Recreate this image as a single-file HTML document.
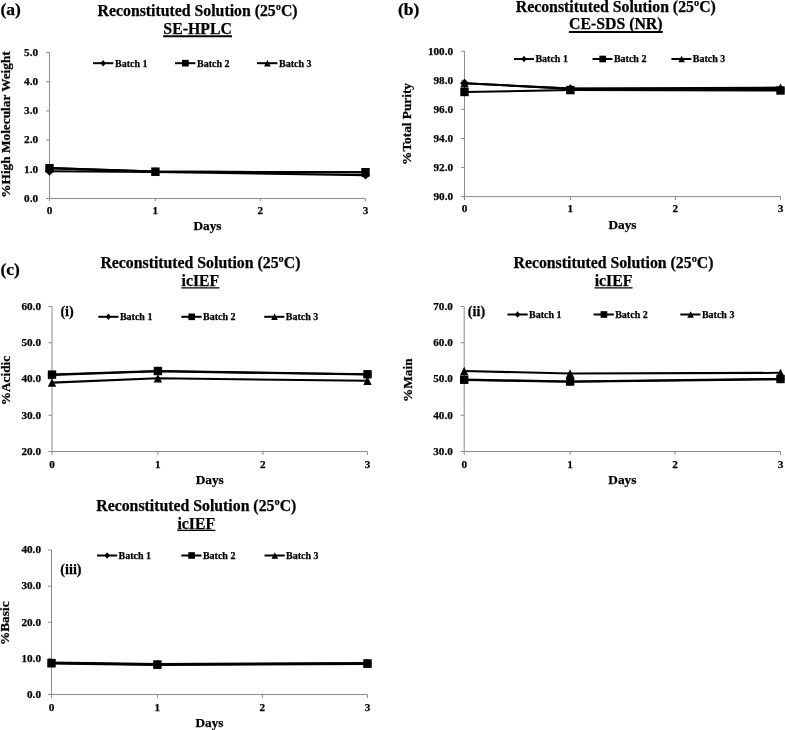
<!DOCTYPE html>
<html><head><meta charset="utf-8"><title>Reconstituted Solution stability</title>
<style>
html,body{margin:0;padding:0;background:#fff;}
svg{display:block;}
text{font-family:"Liberation Serif", serif;font-weight:bold;fill:#000;stroke:#000;stroke-width:0.25px;stroke-linejoin:round;}
</style></head><body>
<svg width="785" height="730" viewBox="0 0 785 730">
<rect width="785" height="730" fill="#fff"/>
<text x="197.6" y="15.7" text-anchor="middle" font-size="15.8">Reconstituted Solution (25ºC)</text>
<text x="197.6" y="33.9" text-anchor="middle" font-size="15.8">SE-HPLC</text>
<path d="M163.16 36.20H232.04" stroke="#000" stroke-width="1.9"/>
<g stroke="#8c8c8c" stroke-width="1" fill="none">
<path d="M49.5 52.5V198.5H365.5"/>
<path d="M46.0 198.50H49.5"/>
<path d="M46.0 169.30H49.5"/>
<path d="M46.0 140.10H49.5"/>
<path d="M46.0 110.90H49.5"/>
<path d="M46.0 81.70H49.5"/>
<path d="M46.0 52.50H49.5"/>
<path d="M49.50 198.5V201.1"/>
<path d="M155.40 198.5V201.1"/>
<path d="M260.40 198.5V201.1"/>
<path d="M365.50 198.5V201.1"/>
</g>
<text x="38.1" y="201.80" text-anchor="end" font-size="11.2">0.0</text>
<text x="38.1" y="172.60" text-anchor="end" font-size="11.2">1.0</text>
<text x="38.1" y="143.40" text-anchor="end" font-size="11.2">2.0</text>
<text x="38.1" y="114.20" text-anchor="end" font-size="11.2">3.0</text>
<text x="38.1" y="85.00" text-anchor="end" font-size="11.2">4.0</text>
<text x="38.1" y="55.80" text-anchor="end" font-size="11.2">5.0</text>
<text x="49.50" y="213.5" text-anchor="middle" font-size="11.2">0</text>
<text x="155.40" y="213.5" text-anchor="middle" font-size="11.2">1</text>
<text x="260.40" y="213.5" text-anchor="middle" font-size="11.2">2</text>
<text x="365.50" y="213.5" text-anchor="middle" font-size="11.2">3</text>
<text x="207.50" y="229.5" text-anchor="middle" font-size="13.3">Days</text>
<text transform="translate(9.7 124.50) rotate(-90)" text-anchor="middle" font-size="13.3">%High Molecular Weight</text>
<path d="M93 63.2H113.4" stroke="#000" stroke-width="2"/>
<path d="M100.50 63.2L103.20 59.90L105.90 63.2L103.20 66.50Z"/>
<text x="115.1" y="66.8" font-size="10">Batch 1</text>
<path d="M175 63.2H195.4" stroke="#000" stroke-width="2"/>
<rect x="182.08" y="59.88" width="6.64" height="6.64"/>
<text x="197.1" y="66.8" font-size="10">Batch 2</text>
<path d="M257 63.2H277.4" stroke="#000" stroke-width="2"/>
<path d="M267.40 59.88L270.72 66.52L264.08 66.52Z"/>
<text x="279.1" y="66.8" font-size="10">Batch 3</text>
<text x="0.5" y="15" font-size="17.5">(a)</text>
<polyline points="49.50,171.34 155.40,171.93 365.50,175.14" fill="none" stroke="#000" stroke-width="2.05" stroke-linejoin="round"/>
<path d="M45.10 171.34L49.50 166.94L53.90 171.34L49.50 175.74Z"/>
<path d="M151.00 171.93L155.40 167.53L159.80 171.93L155.40 176.33Z"/>
<path d="M361.10 175.14L365.50 170.74L369.90 175.14L365.50 179.54Z"/>
<polyline points="49.50,168.13 155.40,171.64 365.50,172.22" fill="none" stroke="#000" stroke-width="2.05" stroke-linejoin="round"/>
<rect x="45.30" y="163.93" width="8.40" height="8.40"/>
<rect x="151.20" y="167.44" width="8.40" height="8.40"/>
<rect x="361.30" y="168.02" width="8.40" height="8.40"/>
<polyline points="49.50,168.13 155.40,171.64 365.50,172.22" fill="none" stroke="#000" stroke-width="2.05" stroke-linejoin="round"/>
<path d="M49.50 163.93L53.70 172.33L45.30 172.33Z"/>
<path d="M155.40 167.44L159.60 175.84L151.20 175.84Z"/>
<path d="M365.50 168.02L369.70 176.42L361.30 176.42Z"/>
<text x="615.8" y="11.7" text-anchor="middle" font-size="15.8">Reconstituted Solution (25ºC)</text>
<text x="615.8" y="29.2" text-anchor="middle" font-size="15.8">CE-SDS (NR)</text>
<path d="M568.86 32.00H662.74" stroke="#000" stroke-width="1.8"/>
<g stroke="#8c8c8c" stroke-width="1" fill="none">
<path d="M464.5 51.3V196.6H780.5"/>
<path d="M461.0 196.60H464.5"/>
<path d="M461.0 167.54H464.5"/>
<path d="M461.0 138.48H464.5"/>
<path d="M461.0 109.42H464.5"/>
<path d="M461.0 80.36H464.5"/>
<path d="M461.0 51.30H464.5"/>
<path d="M464.50 196.6V200.0"/>
<path d="M570.40 196.6V200.0"/>
<path d="M675.40 196.6V200.0"/>
<path d="M780.50 196.6V200.0"/>
</g>
<text x="453.1" y="199.90" text-anchor="end" font-size="11.2">90.0</text>
<text x="453.1" y="170.84" text-anchor="end" font-size="11.2">92.0</text>
<text x="453.1" y="141.78" text-anchor="end" font-size="11.2">94.0</text>
<text x="453.1" y="112.72" text-anchor="end" font-size="11.2">96.0</text>
<text x="453.1" y="83.66" text-anchor="end" font-size="11.2">98.0</text>
<text x="453.1" y="54.60" text-anchor="end" font-size="11.2">100.0</text>
<text x="464.50" y="212.2" text-anchor="middle" font-size="11.2">0</text>
<text x="570.40" y="212.2" text-anchor="middle" font-size="11.2">1</text>
<text x="675.40" y="212.2" text-anchor="middle" font-size="11.2">2</text>
<text x="780.50" y="212.2" text-anchor="middle" font-size="11.2">3</text>
<text x="622.50" y="228.7" text-anchor="middle" font-size="13.3">Days</text>
<text transform="translate(411.2 123.95) rotate(-90)" text-anchor="middle" font-size="13.3">%Total Purity</text>
<path d="M514.0 59.0H534.0" stroke="#000" stroke-width="2"/>
<path d="M521.30 59.0L524.00 55.70L526.70 59.0L524.00 62.30Z"/>
<text x="535.4" y="62.0" font-size="10">Batch 1</text>
<path d="M592.5 59.0H612.5" stroke="#000" stroke-width="2"/>
<rect x="599.38" y="55.68" width="6.64" height="6.64"/>
<text x="613.9" y="62.0" font-size="10">Batch 2</text>
<path d="M671.4 59.0H691.4" stroke="#000" stroke-width="2"/>
<path d="M681.60 55.68L684.92 62.32L678.28 62.32Z"/>
<text x="692.8" y="62.0" font-size="10">Batch 3</text>
<text x="398" y="15" font-size="17.5">(b)</text>
<polyline points="464.50,83.27 570.40,88.64 780.50,89.08" fill="none" stroke="#000" stroke-width="2.05" stroke-linejoin="round"/>
<path d="M460.10 83.27L464.50 78.87L468.90 83.27L464.50 87.67Z"/>
<path d="M566.00 88.64L570.40 84.24L574.80 88.64L570.40 93.04Z"/>
<path d="M776.10 89.08L780.50 84.68L784.90 89.08L780.50 93.48Z"/>
<polyline points="464.50,91.98 570.40,90.10 780.50,90.53" fill="none" stroke="#000" stroke-width="2.05" stroke-linejoin="round"/>
<rect x="460.30" y="87.78" width="8.40" height="8.40"/>
<rect x="566.20" y="85.90" width="8.40" height="8.40"/>
<rect x="776.30" y="86.33" width="8.40" height="8.40"/>
<polyline points="464.50,83.27 570.40,88.64 780.50,87.62" fill="none" stroke="#000" stroke-width="2.05" stroke-linejoin="round"/>
<path d="M464.50 79.07L468.70 87.47L460.30 87.47Z"/>
<path d="M570.40 84.44L574.60 92.84L566.20 92.84Z"/>
<path d="M780.50 83.42L784.70 91.82L776.30 91.82Z"/>
<text x="200.4" y="267.5" text-anchor="middle" font-size="15.8">Reconstituted Solution (25ºC)</text>
<text x="200.4" y="286" text-anchor="middle" font-size="15.8">icIEF</text>
<path d="M181.33 287.90H219.47" stroke="#000" stroke-width="1.4"/>
<g stroke="#8c8c8c" stroke-width="1" fill="none">
<path d="M52.0 306.5V451.5H367.5"/>
<path d="M48.5 451.50H52.0"/>
<path d="M48.5 415.25H52.0"/>
<path d="M48.5 379.00H52.0"/>
<path d="M48.5 342.75H52.0"/>
<path d="M48.5 306.50H52.0"/>
<path d="M52.00 451.5V454.9"/>
<path d="M157.90 451.5V454.9"/>
<path d="M262.90 451.5V454.9"/>
<path d="M367.50 451.5V454.9"/>
</g>
<text x="41.0" y="454.80" text-anchor="end" font-size="11.2">20.0</text>
<text x="41.0" y="418.55" text-anchor="end" font-size="11.2">30.0</text>
<text x="41.0" y="382.30" text-anchor="end" font-size="11.2">40.0</text>
<text x="41.0" y="346.05" text-anchor="end" font-size="11.2">50.0</text>
<text x="41.0" y="309.80" text-anchor="end" font-size="11.2">60.0</text>
<text x="52.00" y="467.5" text-anchor="middle" font-size="11.2">0</text>
<text x="157.90" y="467.5" text-anchor="middle" font-size="11.2">1</text>
<text x="262.90" y="467.5" text-anchor="middle" font-size="11.2">2</text>
<text x="367.50" y="467.5" text-anchor="middle" font-size="11.2">3</text>
<text x="209.75" y="483.5" text-anchor="middle" font-size="13.3">Days</text>
<text transform="translate(9.5 380.60) rotate(-90)" text-anchor="middle" font-size="13.3">%Acidic</text>
<path d="M98.3 316.8H118.5" stroke="#000" stroke-width="2"/>
<path d="M105.70 316.8L108.40 313.50L111.10 316.8L108.40 320.10Z"/>
<text x="119.9" y="319.90000000000003" font-size="10">Batch 1</text>
<path d="M181.4 316.8H201.6" stroke="#000" stroke-width="2"/>
<rect x="188.38" y="313.48" width="6.64" height="6.64"/>
<text x="203.0" y="319.90000000000003" font-size="10">Batch 2</text>
<path d="M264.2 316.8H284.4" stroke="#000" stroke-width="2"/>
<path d="M274.50 313.48L277.82 320.12L271.18 320.12Z"/>
<text x="285.8" y="319.90000000000003" font-size="10">Batch 3</text>
<text x="0.5" y="275" font-size="17.5">(c)</text>
<text x="60.4" y="316" font-size="14.2">(i)</text>
<polyline points="52.00,374.95 157.90,371.32 367.50,374.59" fill="none" stroke="#000" stroke-width="2.05" stroke-linejoin="round"/>
<path d="M47.60 374.65L52.00 370.25L56.40 374.65L52.00 379.05Z"/>
<path d="M153.50 371.02L157.90 366.62L162.30 371.02L157.90 375.42Z"/>
<path d="M363.10 374.29L367.50 369.89L371.90 374.29L367.50 378.69Z"/>
<polyline points="52.00,374.55 157.90,370.92 367.50,374.19" fill="none" stroke="#000" stroke-width="2.05" stroke-linejoin="round"/>
<rect x="47.80" y="370.45" width="8.40" height="8.40"/>
<rect x="153.70" y="366.82" width="8.40" height="8.40"/>
<rect x="363.30" y="370.09" width="8.40" height="8.40"/>
<polyline points="52.00,382.62 157.90,378.27 367.50,380.81" fill="none" stroke="#000" stroke-width="2.05" stroke-linejoin="round"/>
<path d="M52.00 378.43L56.20 386.82L47.80 386.82Z"/>
<path d="M157.90 374.07L162.10 382.47L153.70 382.47Z"/>
<path d="M367.50 376.61L371.70 385.01L363.30 385.01Z"/>
<text x="613.5" y="267.5" text-anchor="middle" font-size="15.8">Reconstituted Solution (25ºC)</text>
<text x="613.5" y="286" text-anchor="middle" font-size="15.8">icIEF</text>
<path d="M594.43 287.90H632.57" stroke="#000" stroke-width="1.4"/>
<g stroke="#8c8c8c" stroke-width="1" fill="none">
<path d="M464.2 306.5V451.5H780.5"/>
<path d="M460.7 451.50H464.2"/>
<path d="M460.7 415.25H464.2"/>
<path d="M460.7 379.00H464.2"/>
<path d="M460.7 342.75H464.2"/>
<path d="M460.7 306.50H464.2"/>
<path d="M464.20 451.5V454.9"/>
<path d="M570.10 451.5V454.9"/>
<path d="M675.10 451.5V454.9"/>
<path d="M780.50 451.5V454.9"/>
</g>
<text x="452.8" y="454.80" text-anchor="end" font-size="11.2">30.0</text>
<text x="452.8" y="418.55" text-anchor="end" font-size="11.2">40.0</text>
<text x="452.8" y="382.30" text-anchor="end" font-size="11.2">50.0</text>
<text x="452.8" y="346.05" text-anchor="end" font-size="11.2">60.0</text>
<text x="452.8" y="309.80" text-anchor="end" font-size="11.2">70.0</text>
<text x="464.20" y="467.5" text-anchor="middle" font-size="11.2">0</text>
<text x="570.10" y="467.5" text-anchor="middle" font-size="11.2">1</text>
<text x="675.10" y="467.5" text-anchor="middle" font-size="11.2">2</text>
<text x="780.50" y="467.5" text-anchor="middle" font-size="11.2">3</text>
<text x="622.35" y="483.5" text-anchor="middle" font-size="13.3">Days</text>
<text transform="translate(411.5 380.20) rotate(-90)" text-anchor="middle" font-size="13.3">%Main</text>
<path d="M507.5 314.5H527.7" stroke="#000" stroke-width="2"/>
<path d="M514.90 314.5L517.60 311.20L520.30 314.5L517.60 317.80Z"/>
<text x="529.1" y="317.8" font-size="10">Batch 1</text>
<path d="M593.6 314.5H613.8000000000001" stroke="#000" stroke-width="2"/>
<rect x="600.58" y="311.18" width="6.64" height="6.64"/>
<text x="615.2" y="317.8" font-size="10">Batch 2</text>
<path d="M680.3 314.5H700.5" stroke="#000" stroke-width="2"/>
<path d="M690.60 311.18L693.92 317.82L687.28 317.82Z"/>
<text x="701.9" y="317.8" font-size="10">Batch 3</text>
<text x="467.8" y="316" font-size="14.2">(ii)</text>
<polyline points="464.20,380.03 570.10,381.84 780.50,379.30" fill="none" stroke="#000" stroke-width="2.05" stroke-linejoin="round"/>
<path d="M459.80 379.73L464.20 375.33L468.60 379.73L464.20 384.12Z"/>
<path d="M565.70 381.54L570.10 377.14L574.50 381.54L570.10 385.94Z"/>
<path d="M776.10 379.00L780.50 374.60L784.90 379.00L780.50 383.40Z"/>
<polyline points="464.20,379.62 570.10,381.44 780.50,378.90" fill="none" stroke="#000" stroke-width="2.05" stroke-linejoin="round"/>
<rect x="460.00" y="375.53" width="8.40" height="8.40"/>
<rect x="565.90" y="377.34" width="8.40" height="8.40"/>
<rect x="776.30" y="374.80" width="8.40" height="8.40"/>
<polyline points="464.20,371.02 570.10,373.56 780.50,372.84" fill="none" stroke="#000" stroke-width="2.05" stroke-linejoin="round"/>
<path d="M464.20 366.82L468.40 375.22L460.00 375.22Z"/>
<path d="M570.10 369.36L574.30 377.76L565.90 377.76Z"/>
<path d="M780.50 368.64L784.70 377.04L776.30 377.04Z"/>
<text x="196.3" y="510.5" text-anchor="middle" font-size="15.8">Reconstituted Solution (25ºC)</text>
<text x="196.3" y="528.5" text-anchor="middle" font-size="15.8">icIEF</text>
<path d="M177.23 530.40H215.37" stroke="#000" stroke-width="1.4"/>
<g stroke="#8c8c8c" stroke-width="1" fill="none">
<path d="M51.5 550.0V694.5H367.5"/>
<path d="M48.0 694.50H51.5"/>
<path d="M48.0 658.38H51.5"/>
<path d="M48.0 622.25H51.5"/>
<path d="M48.0 586.12H51.5"/>
<path d="M48.0 550.00H51.5"/>
<path d="M51.50 694.5V697.9"/>
<path d="M157.40 694.5V697.9"/>
<path d="M262.40 694.5V697.9"/>
<path d="M367.50 694.5V697.9"/>
</g>
<text x="41.0" y="697.80" text-anchor="end" font-size="11.2">0.0</text>
<text x="41.0" y="661.67" text-anchor="end" font-size="11.2">10.0</text>
<text x="41.0" y="625.55" text-anchor="end" font-size="11.2">20.0</text>
<text x="41.0" y="589.42" text-anchor="end" font-size="11.2">30.0</text>
<text x="41.0" y="553.30" text-anchor="end" font-size="11.2">40.0</text>
<text x="51.50" y="710.5" text-anchor="middle" font-size="11.2">0</text>
<text x="157.40" y="710.5" text-anchor="middle" font-size="11.2">1</text>
<text x="262.40" y="710.5" text-anchor="middle" font-size="11.2">2</text>
<text x="367.50" y="710.5" text-anchor="middle" font-size="11.2">3</text>
<text x="209.50" y="726.5" text-anchor="middle" font-size="13.3">Days</text>
<text transform="translate(9.0 623.25) rotate(-90)" text-anchor="middle" font-size="13.3">%Basic</text>
<path d="M97 555.5H117.2" stroke="#000" stroke-width="2"/>
<path d="M104.40 555.5L107.10 552.20L109.80 555.5L107.10 558.80Z"/>
<text x="118.6" y="558.8" font-size="10">Batch 1</text>
<path d="M181.3 555.5H201.5" stroke="#000" stroke-width="2"/>
<rect x="188.28" y="552.18" width="6.64" height="6.64"/>
<text x="202.9" y="558.8" font-size="10">Batch 2</text>
<path d="M264.5 555.5H284.7" stroke="#000" stroke-width="2"/>
<path d="M274.80 552.18L278.12 558.82L271.48 558.82Z"/>
<text x="286.1" y="558.8" font-size="10">Batch 3</text>
<text x="60.3" y="573.5" font-size="14.2">(iii)</text>
<polyline points="51.50,663.57 157.40,665.02 367.50,663.93" fill="none" stroke="#000" stroke-width="2.05" stroke-linejoin="round"/>
<path d="M47.10 663.07L51.50 658.67L55.90 663.07L51.50 667.47Z"/>
<path d="M153.00 664.52L157.40 660.12L161.80 664.52L157.40 668.92Z"/>
<path d="M363.10 663.43L367.50 659.03L371.90 663.43L367.50 667.83Z"/>
<polyline points="51.50,663.07 157.40,664.52 367.50,663.43" fill="none" stroke="#000" stroke-width="2.05" stroke-linejoin="round"/>
<rect x="47.30" y="658.87" width="8.40" height="8.40"/>
<rect x="153.20" y="660.32" width="8.40" height="8.40"/>
<rect x="363.30" y="659.23" width="8.40" height="8.40"/>
<polyline points="51.50,662.57 157.40,664.02 367.50,662.93" fill="none" stroke="#000" stroke-width="2.05" stroke-linejoin="round"/>
<path d="M51.50 658.87L55.70 667.27L47.30 667.27Z"/>
<path d="M157.40 660.32L161.60 668.72L153.20 668.72Z"/>
<path d="M367.50 659.23L371.70 667.63L363.30 667.63Z"/>
</svg>
</body></html>
